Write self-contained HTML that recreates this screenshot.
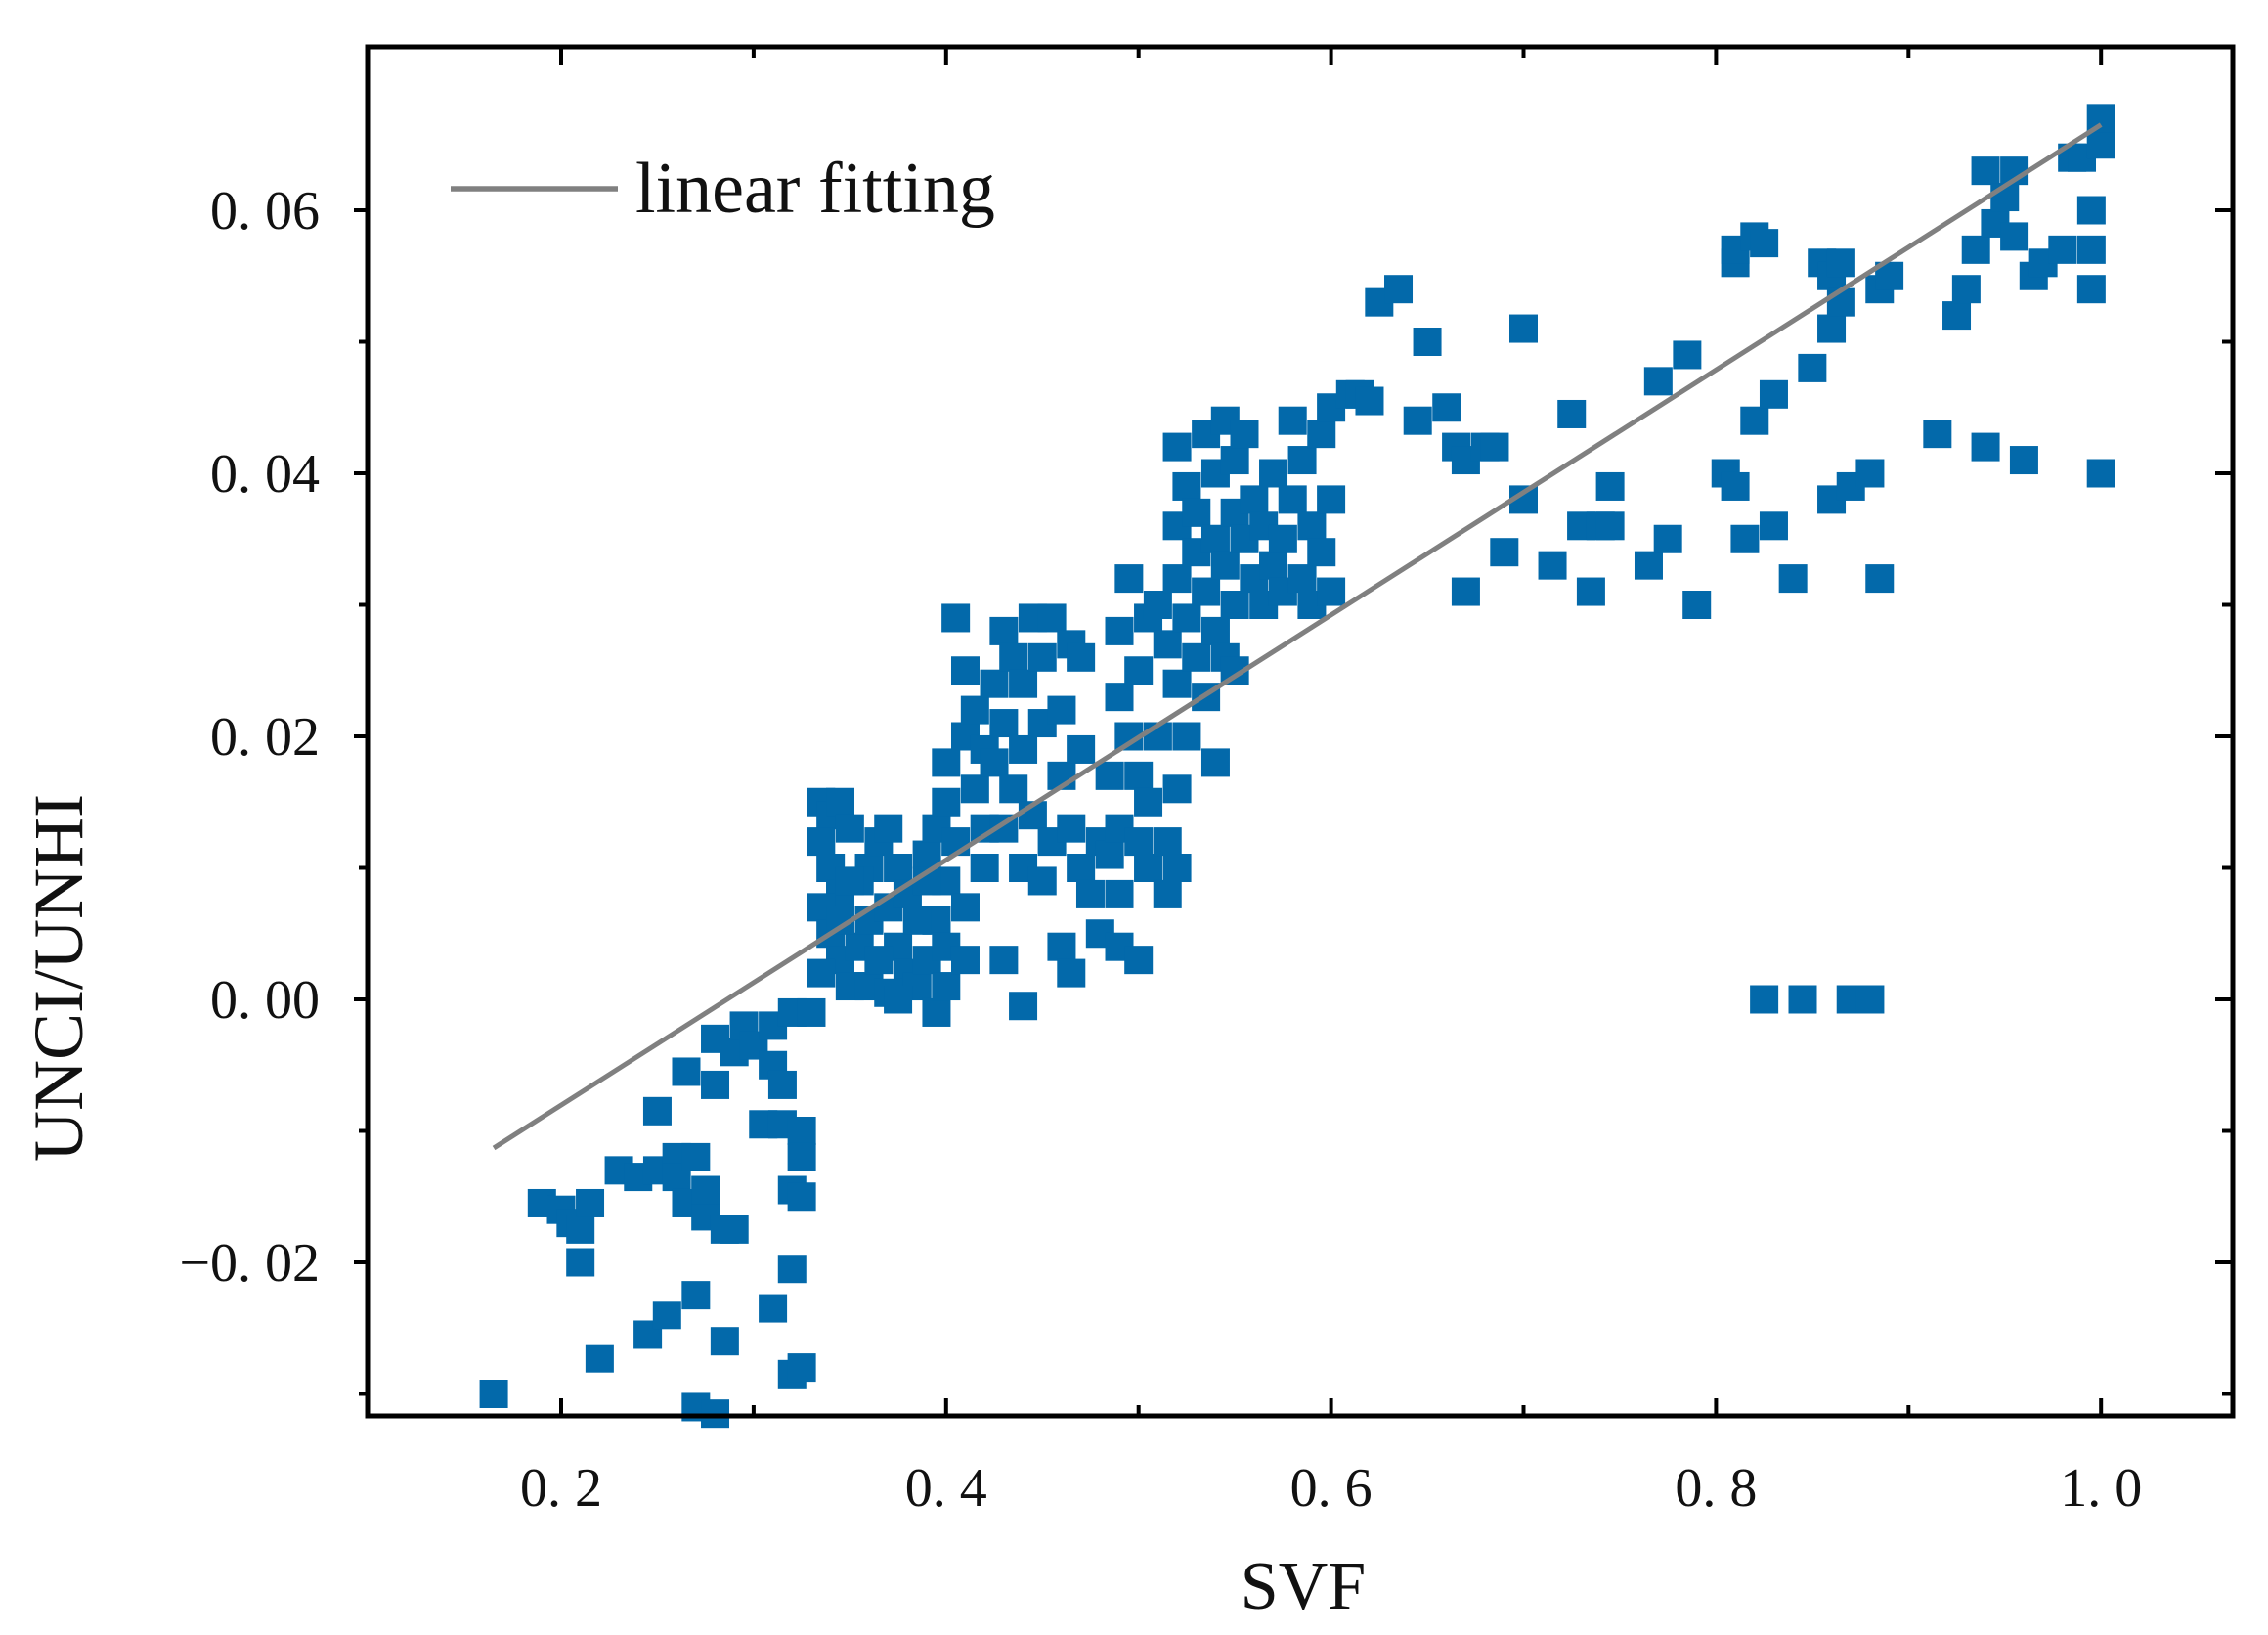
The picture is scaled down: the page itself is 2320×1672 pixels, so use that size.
<!DOCTYPE html>
<html><head><meta charset="utf-8"><style>
html,body{margin:0;padding:0;background:#fff;}
svg{display:block;}
text{font-family:"Liberation Serif","Noto Serif CJK SC",serif;fill:#111;}
</style></head><body>
<svg id="chart" width="2320" height="1672" viewBox="0 0 2320 1672" xmlns="http://www.w3.org/2000/svg">
<rect width="2320" height="1672" fill="#fff"/>
<g id="marks"></g>
<g id="axes"></g>
<text x="1333" y="1645" font-size="70" text-anchor="middle">SVF</text>
<text x="0" y="0" font-size="72" text-anchor="middle" transform="translate(84,1000) rotate(-90)">UNCI/UNHI</text>
<g>
<line x1="461" y1="193" x2="632" y2="193" stroke="#808080" stroke-width="5.5"/>
<text x="650" y="217" font-size="74">linear fitting</text>
</g>
</svg>
<script>
const xTicks=[0.2,0.4,0.6,0.8,1.0];
const xTickLabels=["0. 2","0. 4","0. 6","0. 8","1. 0"];
const xMinor=[0.3,0.5,0.7,0.9];
const yTicks=[-0.02,0.00,0.02,0.04,0.06];
const yTickLabels=["\u22120. 02","0. 00","0. 02","0. 04","0. 06"];
const yMinor=[-0.03,-0.01,0.01,0.03,0.05];
const fitX=[0.165,1.0];
const fitY=[-0.0113,0.0665];
const xs=[0.165,0.19,0.2,0.205,0.21,0.21,0.215,0.22,0.23,0.24,0.245,0.25,0.25,0.255,0.26,0.26,0.265,0.265,0.27,0.27,0.27,0.275,0.275,0.28,0.28,0.28,0.285,0.285,0.29,0.29,0.295,0.30,0.305,0.31,0.31,0.315,0.315,0.32,0.32,0.32,0.325,0.325,0.325,0.325,0.31,0.32,0.33,
0.335,0.34,0.345,0.35,0.335,0.34,0.345,0.335,0.34,0.345,0.35,0.335,0.355,0.36,0.36,0.365,0.37,0.375,0.37,0.375,0.38,0.385,0.39,0.38,0.39,0.395,0.395,0.355,0.36,0.37,0.395,0.40,0.40,0.40,0.40,0.40,0.405,0.41,0.41,0.41,0.41,0.405,0.415,0.415,0.42,0.42,0.42,0.425,0.425,0.43,0.43,0.43,0.43,0.435,0.435,0.44,0.44,0.44,0.44,0.445,0.445,0.45,0.45,0.45,0.455,0.455,0.46,0.46,0.46,0.465,0.465,0.465,0.47,0.47,0.47,0.475,0.48,0.48,0.485,0.485,0.49,0.49,0.49,0.49,0.49,0.495,0.495,0.50,0.50,0.50,0.50,0.505,0.505,0.505,0.51,0.51,0.515,0.515,0.515,0.52,0.52,0.52,0.52,0.52,0.52,0.525,0.525,0.525,0.53,0.53,0.53,0.535,0.535,0.535,0.54,0.54,0.54,0.54,0.545,0.545,0.545,0.55,0.55,0.55,0.55,0.555,0.555,0.56,0.56,0.565,0.565,0.57,0.57,0.575,0.575,0.58,0.58,0.585,0.585,0.59,0.59,0.595,0.595,0.60,0.60,0.60,0.61,0.615,0.62,0.625,0.635,0.65,0.645,0.66,0.665,0.67,0.68,0.685,0.67,0.69,0.70,0.70,0.715,0.725,0.73,0.735,0.74,0.745,0.745,0.765,0.77,0.775,0.785,0.79,0.805,0.81,0.81,0.81,0.815,0.82,0.82,0.825,0.83,0.83,0.84,0.85,0.855,0.86,0.86,0.86,0.865,0.865,0.87,0.88,0.885,0.885,0.89,0.915,0.925,0.93,0.935,0.94,0.94,0.945,0.95,0.955,0.955,0.96,0.965,0.97,0.98,0.985,0.99,0.995,0.995,0.995,1.0,1.0,1.0,0.825,0.845,0.87,0.88,
0.345,0.35,0.365,0.375,0.385,0.39];
const ys=[-0.030,-0.0155,-0.016,-0.017,-0.0175,-0.020,-0.0155,-0.0273,-0.013,-0.0135,-0.0255,-0.013,-0.0085,-0.024,-0.012,-0.0135,-0.0055,-0.0155,-0.012,-0.031,-0.0225,-0.0165,-0.0145,-0.003,-0.0065,-0.0315,-0.0175,-0.026,-0.004,-0.0175,-0.002,-0.0035,-0.0095,-0.005,-0.0235,-0.0065,-0.0095,-0.0145,-0.0285,-0.0205,-0.010,-0.012,-0.015,-0.028,-0.002,-0.001,-0.001,
0.015,0.014,0.015,0.013,0.012,0.010,0.008,0.007,0.005,0.003,0.001,0.002,0.004,0.006,0.010,0.012,0.013,0.010,0.007,0.004,0.002,0.001,0.003,0.008,0.011,0.013,0.006,0.009,0.001,0.0005,-0.001,0.001,0.004,0.009,0.015,0.018,0.012,0.007,0.003,0.020,0.025,0.029,0.022,0.016,0.010,0.013,0.019,0.024,0.018,0.003,0.013,0.021,0.028,0.026,0.016,0.010,0.019,0.024,-0.0005,0.029,0.014,0.009,0.021,0.026,0.012,0.029,0.004,0.017,0.022,0.002,0.013,0.027,0.010,0.019,0.026,0.008,0.005,0.012,0.017,0.011,0.004,0.008,0.013,0.023,0.028,0.032,0.020,0.003,0.012,0.017,0.025,0.029,0.015,0.010,0.020,0.030,0.027,0.012,0.008,0.010,0.016,0.024,0.032,0.036,0.042,0.039,0.029,0.020,0.026,0.034,0.037,0.031,0.023,0.043,0.018,0.028,0.035,0.040,0.044,0.033,0.026,0.025,0.030,0.037,0.041,0.043,0.035,0.032,0.038,0.030,0.036,0.040,0.033,0.035,0.031,0.038,0.044,0.032,0.041,0.036,0.030,0.043,0.034,0.038,0.031,0.045,0.046,0.046,0.0455,0.053,0.054,0.050,0.044,0.045,0.042,0.041,0.042,0.042,0.031,0.034,0.051,0.038,0.033,0.0445,0.036,0.031,0.036,0.039,0.036,0.033,0.047,0.035,0.049,0.030,0.040,0.039,0.056,0.057,0.035,0.044,0.058,0.0575,0.046,0.036,0.032,0.048,0.056,0.055,0.038,0.051,0.053,0.056,0.039,0.040,0.032,0.054,0.055,0.043,0.052,0.054,0.057,0.063,0.042,0.059,0.061,0.063,0.058,0.041,0.055,0.056,0.057,0.064,0.064,0.060,0.054,0.057,0.040,0.065,0.067,0.000,0.000,0.000,0.000,
0.006,0.009,0.003,0.000,0.006,0.009];

const NS="http://www.w3.org/2000/svg";
const L=376,R=2284,T=48,B=1448;
function sx(v){return 574+(v-0.2)*1969;}
function sy(v){return 1022-v*13450;}
function mk(tag,attrs,parent){const e=document.createElementNS(NS,tag);for(const k in attrs)e.setAttribute(k,attrs[k]);parent.appendChild(e);return e;}
const marks=document.getElementById('marks');
const axes=document.getElementById('axes');
const S=29;
for(let i=0;i<xs.length;i++){
  const r=mk('rect',{x:sx(xs[i])-S/2,y:sy(ys[i])-S/2,width:S,height:S,fill:'#0369AA'},marks);
  
  
}
const fl=mk('line',{x1:sx(fitX[0]),y1:sy(fitY[0]),x2:sx(fitX[1]),y2:sy(fitY[1]),stroke:'#808080','stroke-width':5},marks);


const fr=mk('rect',{x:L,y:T,width:R-L,height:B-T,fill:'none',stroke:'#000','stroke-width':5},axes);


xTicks.forEach((v,i)=>{
  const x=sx(v);
  mk('line',{x1:x,y1:B,x2:x,y2:B-18,stroke:'#000','stroke-width':4},axes);
  mk('line',{x1:x,y1:T,x2:x,y2:T+18,stroke:'#000','stroke-width':4},axes);
  const t=mk('text',{x:x,y:1540,'font-size':56,'text-anchor':'middle'},axes);
  t.textContent=xTickLabels[i];
  
  
});
xMinor.forEach(v=>{
  const x=sx(v);
  mk('line',{x1:x,y1:B,x2:x,y2:B-11,stroke:'#000','stroke-width':4},axes);
  mk('line',{x1:x,y1:T,x2:x,y2:T+11,stroke:'#000','stroke-width':4},axes);
});
yTicks.forEach((v,i)=>{
  const y=sy(v);
  mk('line',{x1:L,y1:y,x2:L-14,y2:y,stroke:'#000','stroke-width':4},axes);
  mk('line',{x1:R,y1:y,x2:R-18,y2:y,stroke:'#000','stroke-width':4},axes);
  const t=mk('text',{x:327,y:y+19,'font-size':56,'text-anchor':'end'},axes);
  t.textContent=yTickLabels[i];
  
  
});
yMinor.forEach(v=>{
  const y=sy(v);
  mk('line',{x1:L,y1:y,x2:L-9,y2:y,stroke:'#000','stroke-width':4},axes);
  mk('line',{x1:R,y1:y,x2:R-11,y2:y,stroke:'#000','stroke-width':4},axes);
});
</script>
</body></html>
